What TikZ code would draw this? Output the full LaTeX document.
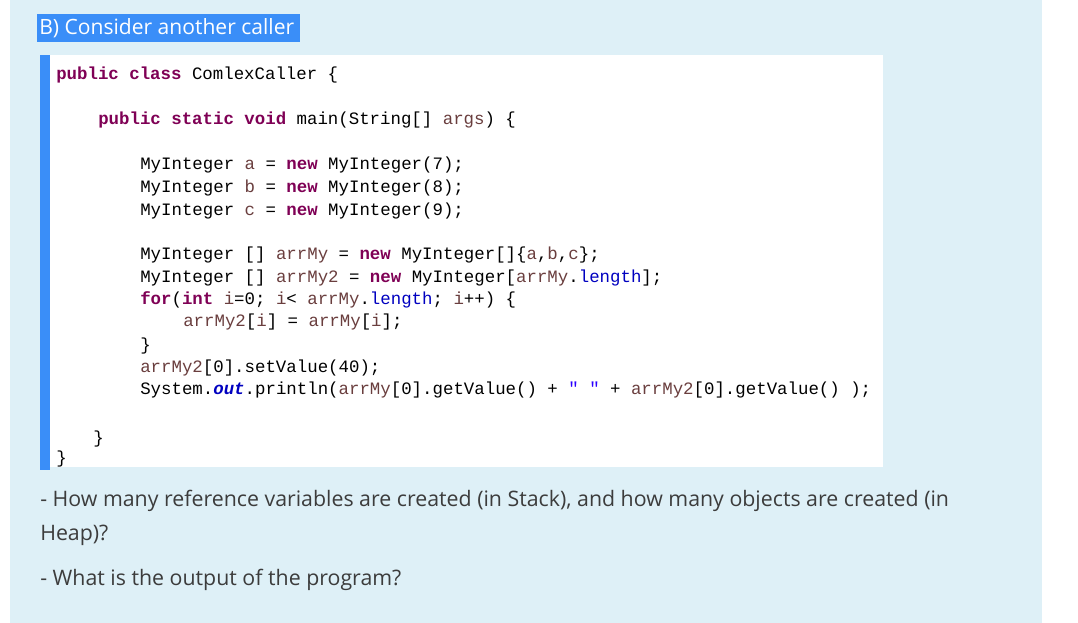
\documentclass[tikz,border=0pt]{standalone}
\usepackage{fontspec}
\setmainfont{Open Sans}
\setmonofont{Liberation Mono}
\definecolor{bg}{HTML}{DEF0F7}
\definecolor{tblue}{HTML}{3A8EF8}
\definecolor{kwc}{HTML}{7F0055}
\definecolor{varc}{HTML}{6A3E3E}
\definecolor{fld}{HTML}{0000C0}
\definecolor{strc}{HTML}{2A00FF}
\definecolor{qtxt}{HTML}{3C3C3C}
\newcommand{\kw}[1]{\textcolor{kwc}{\bfseries #1}}
\newcommand{\vr}[1]{\textcolor{varc}{#1}}
\newcommand{\fd}[1]{\textcolor{fld}{#1}}
\begin{document}
\begin{tikzpicture}[x=0.75pt,y=-0.75pt,
  code/.style={anchor=base west,inner sep=0pt,font=\ttfamily\fontsize{13.05}{14}\selectfont},
  q/.style={anchor=base west,inner sep=0pt,text=qtxt,font=\fontsize{16}{18}\selectfont}]
\useasboundingbox (0,0) rectangle (1078,623);
\fill[white] (0,0) rectangle (1078,623);
\fill[bg] (10,0) rectangle (1042,623);
\fill[tblue] (37,14) rectangle (300,42);
\node[anchor=base west,inner sep=0pt,text=white,font=\fontsize{15.8}{17}\selectfont] (title) at (39,35) {B) Consider another caller};
\fill[tblue] (40,55) rectangle (50,470);
\fill[white] (50,55) rectangle (883,467);
\node[code] (l1) at (56,80) {\kw{public} \kw{class} ComlexCaller \{};
\node[code] (l2) at (98,125) {\kw{public} \kw{static} \kw{void} main(String[] \vr{args}) \{};
\node[code] (l3) at (140,170) {MyInteger \vr{a} = \kw{new} MyInteger(7);};
\node[code] (l4) at (140,193) {MyInteger \vr{b} = \kw{new} MyInteger(8);};
\node[code] (l5) at (140,216) {MyInteger \vr{c} = \kw{new} MyInteger(9);};
\node[code] (l6) at (140,260) {MyInteger [] \vr{arrMy} = \kw{new} MyInteger[]\{\vr{a},\vr{b},\vr{c}\};};
\node[code] (l7) at (140,283) {MyInteger [] \vr{arrMy2} = \kw{new} MyInteger[\vr{arrMy}.\fd{length}];};
\node[code] (l8) at (140,305) {\kw{for}(\kw{int} \vr{i}=0; \vr{i}< \vr{arrMy}.\fd{length}; \vr{i}++) \{};
\node[code] (l9) at (183,327) {\vr{arrMy2}[\vr{i}] = \vr{arrMy}[\vr{i}];};
\node[code] (l10) at (140,351) {\}};
\node[code] (l11) at (140,373) {\vr{arrMy2}[0].setValue(40);};
\node[code] (l12) at (140,395) {System.\textcolor{fld}{\itshape\bfseries out}.println(\vr{arrMy}[0].getValue() + \textcolor{strc}{" "} + \vr{arrMy2}[0].getValue() );};
\node[code] (l13) at (93,443) {\}};
\node[code] (l14) at (56,463) {\}};
\node[q] (q1) at (40,506) {- How many reference variables are created (in Stack), and how many objects are created (in};
\node[q] (q2) at (40,540) {Heap)?};
\node[q] (q3) at (40,585) {- What is the output of the program?};
\end{tikzpicture}
\end{document}
